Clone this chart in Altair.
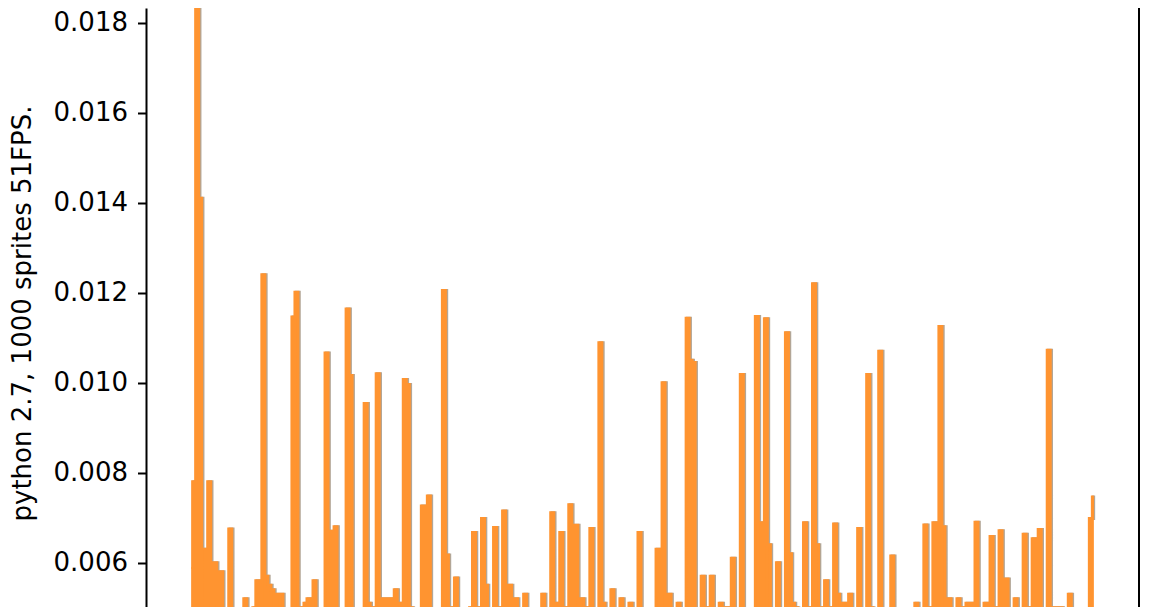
import altair as alt
import pandas as pd

# frame times (seconds) per frame
frame_times = [
    0.0059, 0.0078, 0.0196, 0.0141, 0.0063, 0.0050, 0.0078, 0.0051, 0.0060, 0.0049,
    0.0058, 0.0047, 0.0048, 0.00675, 0.0048, 0.0046, 0.0047, 0.0049, 0.0052, 0.0048,
    0.0049, 0.0050, 0.0056, 0.0048, 0.0124, 0.0057, 0.0055, 0.0054, 0.0049, 0.0053,
    0.0053, 0.0047, 0.0046, 0.0048, 0.01146, 0.01201, 0.0049, 0.0050, 0.0051, 0.0052,
    0.0052, 0.0056, 0.0048, 0.0047, 0.0048, 0.01066, 0.0067, 0.0049, 0.0068, 0.0047,
    0.0048, 0.0048, 0.01164, 0.01016, 0.0048, 0.0046, 0.0047, 0.0048, 0.00954, 0.0051,
    0.0050, 0.0048, 0.0102, 0.0052, 0.0052, 0.0051, 0.0052, 0.0051, 0.0054, 0.0051,
    0.0048, 0.01007, 0.00996, 0.0050, 0.0049, 0.0047, 0.0048, 0.00726, 0.0049, 0.00748,
    0.0048, 0.0047, 0.0046, 0.0048, 0.01205, 0.00617, 0.0049, 0.0050, 0.00566, 0.0049,
    0.0049, 0.0049, 0.0049, 0.0050, 0.00667, 0.0050, 0.0050, 0.00698, 0.0055, 0.0048,
    0.0048, 0.00678, 0.0050, 0.0049, 0.00715, 0.0050, 0.0055, 0.0049, 0.0052, 0.0049,
    0.0048, 0.0053, 0.0048, 0.0047, 0.0046, 0.0048, 0.0048, 0.0053, 0.0049, 0.0049,
    0.00711, 0.0050, 0.0051, 0.00667, 0.0050, 0.0050, 0.00729, 0.0051, 0.00683, 0.0052,
    0.0052, 0.0050, 0.0049, 0.00676, 0.0049, 0.0049, 0.01089, 0.0051, 0.0048, 0.0049,
    0.0054, 0.0049, 0.0048, 0.0052, 0.0049, 0.0048, 0.0051, 0.0048, 0.0049, 0.00667,
    0.0048, 0.0049, 0.0048, 0.0047, 0.0048, 0.0063, 0.0053, 0.0100, 0.0049, 0.0053,
    0.0049, 0.0048, 0.0051, 0.0048, 0.0049, 0.01143, 0.01050, 0.01045, 0.0049, 0.0048,
    0.0057, 0.0050, 0.0049, 0.0057, 0.0049, 0.0048, 0.0051, 0.0049, 0.0050, 0.0048,
    0.0061, 0.0049, 0.0048, 0.01018, 0.0049, 0.0046, 0.0047, 0.0048, 0.01147, 0.00689,
    0.0050, 0.01142, 0.0064, 0.0049, 0.0049, 0.0060, 0.0049, 0.0048, 0.01111, 0.0062,
    0.0051, 0.0050, 0.0049, 0.0048, 0.00689, 0.0050, 0.0048, 0.0122, 0.0064, 0.0050,
    0.0049, 0.0056, 0.0050, 0.0049, 0.00686, 0.0053, 0.0051, 0.0051, 0.0049, 0.0053,
    0.0049, 0.0048, 0.00676, 0.0048, 0.0047, 0.01018, 0.0050, 0.0048, 0.0049, 0.0107,
    0.0049, 0.0048, 0.0047, 0.00615, 0.0049, 0.0049, 0.00492, 0.00494, 0.00493, 0.00494,
    0.00492, 0.0051, 0.0049, 0.0048, 0.00684, 0.0050, 0.0050, 0.00689, 0.0050, 0.01125,
    0.0068, 0.0050, 0.0052, 0.0049, 0.0048, 0.0052, 0.0050, 0.0049, 0.0051, 0.0051,
    0.0049, 0.0069, 0.0049, 0.0048, 0.0051, 0.0048, 0.00658, 0.0050, 0.0049, 0.00671,
    0.0050, 0.00564, 0.0049, 0.0049, 0.0052, 0.0049, 0.0048, 0.00663, 0.0049, 0.0050,
    0.00653, 0.0049, 0.00674, 0.0049, 0.0048, 0.01072, 0.0050, 0.0050, 0.0050, 0.0050,
    0.0049, 0.0048, 0.0053, 0.0049, 0.0047, 0.0046, 0.0048, 0.0049, 0.0049, 0.00698,
    0.00746,
]
y_ticks = [0.006, 0.008, 0.010, 0.012, 0.014, 0.016, 0.018]
y_title = "python 2.7, 1000 sprites 51FPS."

n = len(frame_times)
df = pd.DataFrame({"frame": list(range(n)), "seconds": frame_times})

W, H = 993, 599
FONT = "DejaVu Sans"
ORANGE = "#ff9430"

# matplotlib-like 5% margins on x; y range is the cropped window of the original
x_scale = alt.Scale(domain=[-0.05 * (n - 1), 1.05 * (n - 1)], nice=False, zero=False)
y_scale = alt.Scale(domain=[0.0050156, 0.0183267], nice=False, zero=False)

x_enc = alt.X("frame:Q", scale=x_scale, axis=None)
y_enc = alt.Y(
    "seconds:Q",
    scale=y_scale,
    axis=alt.Axis(
        values=y_ticks,
        format=".3f",
        title=y_title,
        titleFont=FONT,
        titleFontSize=26,
        titleFontWeight="normal",
        titleColor="#000000",
        titleAngle=270,
        titleBaseline="alphabetic",
        titleAlign="center",
        titleX=-116,
        titleY=305,
        labelFont=FONT,
        labelFontSize=26,
        labelColor="#000000",
        labelPadding=10,
        labelOverlap=False,
        labelFlush=False,
        domainColor="#000000",
        domainWidth=2,
        tickColor="#000000",
        tickWidth=2,
        tickSize=8.5,
        grid=False,
    ),
)

base = alt.Chart(df)

shadow = base.mark_line(
    color="#b3a696", strokeWidth=3, interpolate="step", clip=True, xOffset=1.3
).encode(x=x_enc, y=y_enc)

# the dense thick line reads as solid columns; fill under the step line
fill = base.mark_area(
    color=ORANGE, interpolate="step", clip=True
).encode(x=x_enc, y=y_enc, y2=alt.value(H))

line = base.mark_line(
    color=ORANGE, strokeWidth=3, interpolate="step", clip=True
).encode(x=x_enc, y=y_enc)

right_spine = base.mark_rule(color="#000000", strokeWidth=2).encode(
    x=alt.value(W), y=alt.value(0), y2=alt.value(H)
)

chart = alt.layer(shadow, fill, line, right_spine).properties(
    width=W,
    height=H,
    autosize=alt.AutoSizeParams(type="none"),
    padding={"left": 138, "top": 0, "right": 6, "bottom": 0},
    background="#ffffff",
).configure_view(stroke=None)

chart.save("out.html", embed_options={"renderer": "svg", "actions": False})
